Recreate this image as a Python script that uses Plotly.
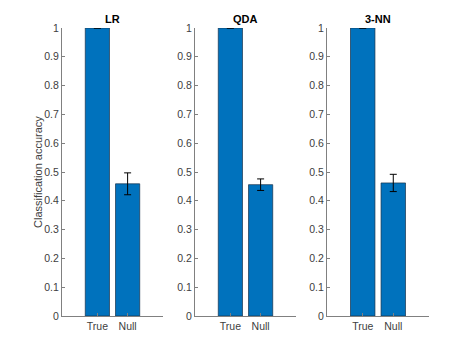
import plotly.graph_objects as go

classifiers = ["LR", "QDA", "3-NN"]
categories = ["True", "Null"]
true_acc = [1.0, 1.0, 1.0]
null_acc = [0.459, 0.456, 0.462]
null_err = [0.038, 0.020, 0.030]
y_ticks = [0, 0.1, 0.2, 0.3, 0.4, 0.5, 0.6, 0.7, 0.8, 0.9, 1]
y_tick_labels = ["0", "0.1", "0.2", "0.3", "0.4", "0.5", "0.6", "0.7", "0.8", "0.9", "1"]
y_label = "Classification accuracy"

W, H = 474, 355
x_domains = [(62 / W, 163 / W), (195 / W, 296 / W), (327 / W, 429 / W)]
y_domain = ((H - 316) / H, (H - 28) / H)

axis_color = "#808080"
text_color = "#404040"
font_family = "Liberation Sans, Arial, sans-serif"

fig = go.Figure()
layout = dict(
    width=W, height=H, autosize=False,
    margin=dict(l=0, r=0, t=0, b=0, pad=0, autoexpand=False),
    paper_bgcolor="white", plot_bgcolor="white",
    showlegend=False,
    font=dict(family=font_family, size=10, color=text_color),
    annotations=[],
)

for i, name in enumerate(classifiers):
    sfx = "" if i == 0 else str(i + 1)
    xa, ya = "x" + sfx, "y" + sfx
    fig.add_trace(go.Bar(
        x=[1, 2], y=[true_acc[i], null_acc[i]],
        width=0.8,
        marker=dict(color="#0072BD", line=dict(color="#15304a", width=0.7)),
        error_y=dict(type="data", array=[0, null_err[i]], visible=True,
                     color="black", thickness=1, width=3.5),
        xaxis=xa, yaxis=ya,
    ))
    layout["xaxis" + sfx] = dict(
        domain=list(x_domains[i]), anchor=ya, automargin=False,
        range=[-0.17, 3.17], tickvals=[1, 2], ticktext=categories,
        ticks="inside", ticklen=3, tickcolor=axis_color,
        showline=True, linecolor=axis_color, linewidth=1,
        showgrid=False, zeroline=False, fixedrange=True,
        tickfont=dict(size=10.5, color=text_color),
    )
    layout["yaxis" + sfx] = dict(
        domain=list(y_domain), anchor=xa, automargin=False,
        range=[0, 1], tickvals=y_ticks, ticktext=y_tick_labels,
        ticks="inside", ticklen=3, tickcolor=axis_color,
        showline=True, linecolor=axis_color, linewidth=1,
        showgrid=False, zeroline=False, fixedrange=True,
        tickfont=dict(size=10.5, color=text_color),
    )
    layout["annotations"].append(dict(
        text="<b>" + name + "</b>", xref="paper", yref="paper",
        x=(x_domains[i][0] + x_domains[i][1]) / 2, y=(H - 19) / H,
        xanchor="center", yanchor="middle", showarrow=False,
        font=dict(size=11, color="black", family=font_family),
    ))

layout["annotations"].append(dict(
    text=y_label, xref="paper", yref="paper",
    x=38 / W, y=(y_domain[0] + y_domain[1]) / 2,
    xanchor="center", yanchor="middle", textangle=-90, showarrow=False,
    font=dict(size=11, color=text_color, family=font_family),
))

fig.update_layout(**layout)
fig.write_html("out.html", config={"displayModeBar": False},
               post_script="document.body.style.margin='0';document.body.style.overflow='hidden';")
